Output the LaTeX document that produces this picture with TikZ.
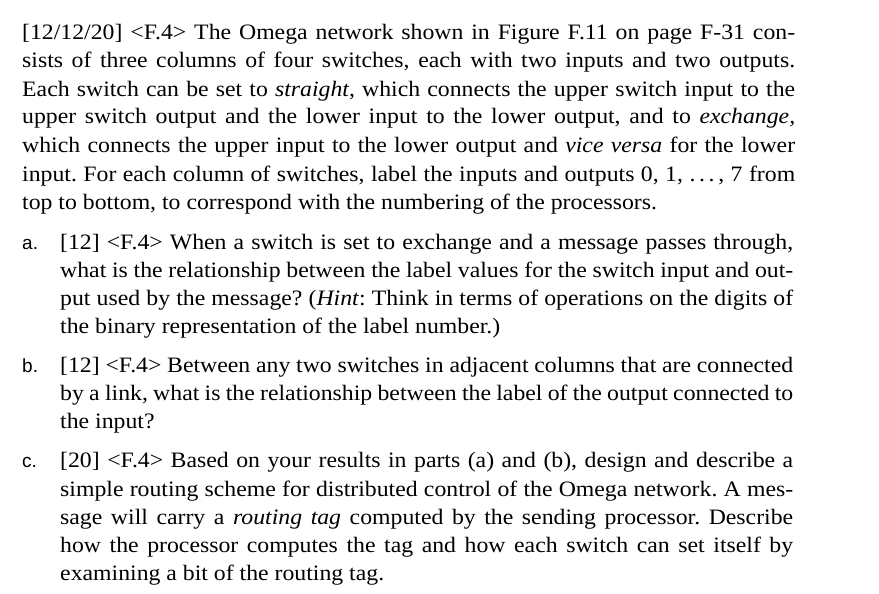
\documentclass[tikz,border=0pt]{standalone}
\usepackage{fontspec}
\setmainfont{Liberation Serif}[FakeStretch=1.08]
\newfontfamily\labfont{Liberation Sans}
\frenchspacing
\begin{document}
\begin{tikzpicture}[x=1pt,y=-1pt,
  ln/.style={anchor=base west,inner sep=0pt,font=\fontsize{22}{26}\selectfont},
  lb/.style={anchor=base west,inner sep=0pt,font=\labfont\fontsize{19}{24}\selectfont}]
\useasboundingbox (0,0) rectangle (879,594);
\def\W{773}\def\V{733}
\node[ln] (l1) at (22,40) {\makebox[\W pt][s]{[12/12/20] <F.4> The Omega network shown in Figure F.11 on page F-31 con-}};
\node[ln] (l2) at (22,68) {\makebox[\W pt][s]{sists of three columns of four switches, each with two inputs and two outputs.}};
\node[ln] (l3) at (22,96) {\makebox[\W pt][s]{Each switch can be set to \textit{straight}, which connects the upper switch input to the}};
\node[ln] (l4) at (22,124) {\makebox[\W pt][s]{upper switch output and the lower input to the lower output, and to \textit{exchange,}}};
\node[ln] (l5) at (22,153) {\makebox[\W pt][s]{which connects the upper input to the lower output and \textit{vice versa} for the lower}};
\node[ln] (l6) at (22,181) {\makebox[\W pt][s]{input. For each column of switches, label the inputs and outputs 0, 1, .\,.\,.\,, 7 from}};
\node[ln] (l7) at (22,209) {top to bottom, to correspond with the numbering of the processors.};
\node[lb] (la) at (22,249) {a.};
\node[ln] (a1) at (60,249) {\makebox[\V pt][s]{[12] <F.4> When a switch is set to exchange and a message passes through,}};
\node[ln] (a2) at (60,277) {\makebox[\V pt][s]{what is the relationship between the label values for the switch input and out-}};
\node[ln] (a3) at (60,305) {\makebox[\V pt][s]{put used by the message? (\textit{Hint}: Think in terms of operations on the digits of}};
\node[ln] (a4) at (60,333) {the binary representation of the label number.)};
\node[lb] (lbb) at (22,372) {b.};
\node[ln] (b1) at (60,372) {\makebox[\V pt][s]{[12] <F.4> Between any two switches in adjacent columns that are connected}};
\node[ln] (b2) at (60,400) {\makebox[\V pt][s]{by a link, what is the relationship between the label of the output connected to}};
\node[ln] (b3) at (60,428) {the input?};
\node[lb] (lc) at (22,467) {c.};
\node[ln] (c1) at (60,467) {\makebox[\V pt][s]{[20] <F.4> Based on your results in parts (a) and (b), design and describe a}};
\node[ln] (c2) at (60,496) {\makebox[\V pt][s]{simple routing scheme for distributed control of the Omega network. A mes-}};
\node[ln] (c3) at (60,524) {\makebox[\V pt][s]{sage will carry a \textit{routing tag} computed by the sending processor. Describe}};
\node[ln] (c4) at (60,552) {\makebox[\V pt][s]{how the processor computes the tag and how each switch can set itself by}};
\node[ln] (c5) at (60,580) {examining a bit of the routing tag.};
\end{tikzpicture}
\end{document}
